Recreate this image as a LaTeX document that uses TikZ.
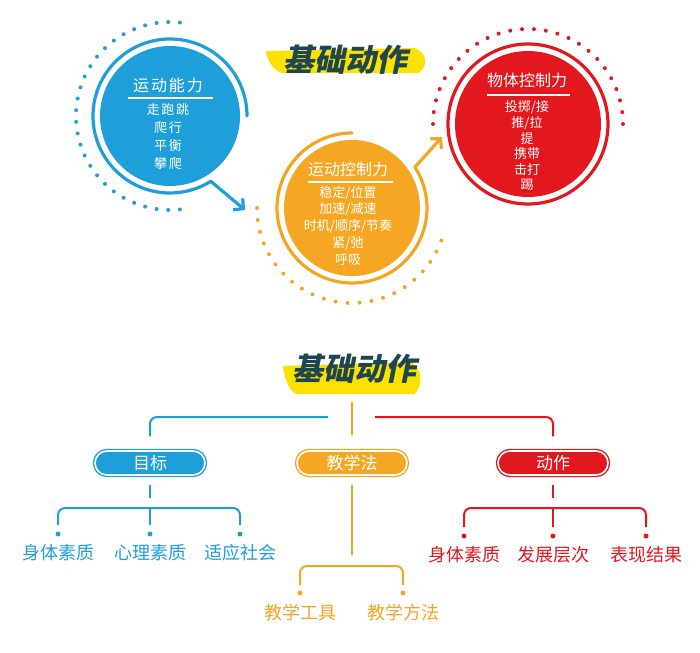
\documentclass[tikz,border=0pt]{standalone}
\usepackage{fontspec}
\newfontfamily\cjk{Noto Sans CJK SC}
\newfontfamily\cjkwide[LetterSpace=12]{Noto Sans CJK SC}
\newfontfamily\titlefont[FakeSlant=0.2]{Noto Sans CJK SC}
\usetikzlibrary{positioning,arrows.meta}
\definecolor{cblue}{HTML}{1E9FDA}
\definecolor{corange}{HTML}{F5A623}
\definecolor{cred}{HTML}{E3181E}
\definecolor{cyellow}{HTML}{FFE100}
\definecolor{cteal}{HTML}{1D4650}
\newcommand{\brush}[4]{\fill[cyellow,shift={(#1,#2)},xscale=#3,yscale=#4]
  (-1,0.75) -- (0.85,1) .. controls (1.02,0.6) and (1.02,-0.5) .. (0.9,-1)
  -- (-0.8,-1) .. controls (-0.92,-0.8) and (-0.98,0.2) .. cycle;}
\begin{document}
\begin{tikzpicture}[x=1pt,y=1pt,
  ring/.style={line width=3.2,line cap=round,line join=round},
  arrowto/.style={-{Straight Barb[length=7pt,width=15pt]}},
  uline/.style={white,line width=1.5},
  ctitle/.style={text=white,inner sep=0,font=\cjk\fontsize{16}{16}\selectfont},
  citem/.style={text=white,inner sep=0,font=\cjk\fontsize{13}{13}\selectfont},
  headline/.style={text=cteal,inner sep=0,font=\titlefont\bfseries\fontsize{31}{31}\selectfont},
  pill/.style={draw=#1,fill=#1,double=white,double distance=1.6,line width=1.4,
    rounded corners=12,minimum width=110,minimum height=24,inner sep=0,
    text=white,font=\cjk\fontsize{17}{17}\selectfont},
  treeline/.style={draw=#1,line width=2,rounded corners=7},
  spot/.style={circle,fill=#1,inner sep=0,minimum size=5},
  leaf/.style={text=#1,inner sep=0,font=\cjk\fontsize{18}{18}\selectfont},
]
\useasboundingbox (0,0) rectangle (700,-652);

% top title
\brush{346}{-60.5}{80.5}{12.5}
\node[headline] (t1) at (345,-60) {基础动作};

% blue circle
\coordinate (bc) at (170,-116);
\coordinate (bto) at (245,-210);
\fill[cblue] (bc) circle[radius=70];
\draw[ring,cblue,arrowto] ([shift={(0:77)}]bc) arc[start angle=0,end angle=302,radius=77] -- (bto);
\foreach \i in {0,...,27}
  \fill[cblue] (bc) ++({84+\i*192/27}:94) circle[radius=2];
\node[ctitle,font=\cjkwide\fontsize{16}{16}\selectfont] (bt) at (168,-85) {运动能力};
\draw[uline] (128,-98) -- (213,-98);
\foreach \txt [count=\i] in {走跑跳,爬行,平衡,攀爬}
  \node[citem,font=\cjkwide\fontsize{13}{13}\selectfont] (b\i) at (168,{-110-17.7*(\i-1)}) {\txt};

% orange circle
\coordinate (oc) at (352,-208);
\coordinate (oto) at (442,-137);
\fill[corange] (oc) circle[radius=68];
\draw[ring,corange,arrowto] ([shift={(90:75)}]oc) arc[start angle=90,end angle=393,radius=75] -- (oto);
\foreach \i in {0,...,22}
  \fill[corange] (oc) ++({180+\i*160/22}:95) circle[radius=2];
\node[ctitle] (ot) at (348,-169) {运动控制力};
\draw[uline] (308,-182) -- (393,-182);
\foreach \txt [count=\i] in {稳定/位置,加速/减速,时机/顺序/节奏,紧/弛,呼吸}
  \node[citem] (o\i) at (348,{-193-16.7*(\i-1)}) {\txt};

% red circle
\coordinate (rc) at (528,-124);
\fill[cred] (rc) circle[radius=73];
\draw[ring,cred] (rc) circle[radius=80];
\foreach \i in {0,...,25}
  \fill[cred] (rc) ++({\i*180/25}:95) circle[radius=2];
\node[ctitle] (rt) at (527,-80) {物体控制力};
\draw[uline] (487,-95) -- (570,-95);
\foreach \txt [count=\i] in {投掷/接,推/拉,提,携带,击打,踢}
  \node[citem] (r\i) at (527,{-107.5-15.4*(\i-1)}) {\txt};

% bottom title
\brush{352}{-378}{69.5}{16}
\node[headline] (t2) at (354,-369) {基础动作};
\coordinate (rootL) at (328,-417);
\coordinate (rootM) at (352,-402);
\coordinate (rootR) at (375,-417);

\node[pill=cblue] (goal) at (150,-463) {目标};
\node[pill=corange] (method) at (352,-463) {教学法};
\node[pill=cred] (act) at (553,-463) {动作};

\draw[treeline=cblue] (rootL) -| ([yshift=14]goal.north);
\draw[treeline=corange] (rootM) -- ([yshift=15]method.north);
\draw[treeline=cred] (rootR) -| ([yshift=14]act.north);

% goal branch
\coordinate (gb) at (150,-508);
\node[spot=cblue] (g1) at (58,-534) {};
\node[spot=cblue] (g2) at (150,-534) {};
\node[spot=cblue] (g3) at (240,-534) {};
\draw[treeline=cblue] ([yshift=-9]goal.south) -- ([yshift=10]gb);
\draw[treeline=cblue] ([yshift=9]g1.center) |- (gb) -| ([yshift=9]g3.center);
\draw[treeline=cblue] (gb) -- ([yshift=9]g2.center);
\node[leaf=cblue,below=7pt of g1] (gl1) {身体素质};
\node[leaf=cblue,below=7pt of g2] (gl2) {心理素质};
\node[leaf=cblue,below=7pt of g3] (gl3) {适应社会};

% method branch
\coordinate (mb) at (352,-566);
\node[spot=corange] (m1) at (300,-593) {};
\node[spot=corange] (m2) at (403,-593) {};
\draw[treeline=corange] ([yshift=-9]method.south) -- ([yshift=11]mb);
\draw[treeline=corange] ([yshift=8]m1.center) |- (mb) -| ([yshift=8]m2.center);
\node[leaf=corange,below=8pt of m1] (ml1) {教学工具};
\node[leaf=corange,below=8pt of m2] (ml2) {教学方法};

% action branch
\coordinate (ab) at (553,-508);
\node[spot=cred] (a1) at (464,-536) {};
\node[spot=cred] (a2) at (553,-536) {};
\node[spot=cred] (a3) at (646,-536) {};
\draw[treeline=cred] ([yshift=-9]act.south) -- ([yshift=10]ab);
\draw[treeline=cred] ([yshift=9]a1.center) |- (ab) -| ([yshift=9]a3.center);
\draw[treeline=cred] (ab) -- ([yshift=9]a2.center);
\node[leaf=cred,below=7pt of a1] (al1) {身体素质};
\node[leaf=cred,below=7pt of a2] (al2) {发展层次};
\node[leaf=cred,below=7pt of a3] (al3) {表现结果};
\end{tikzpicture}
\end{document}
